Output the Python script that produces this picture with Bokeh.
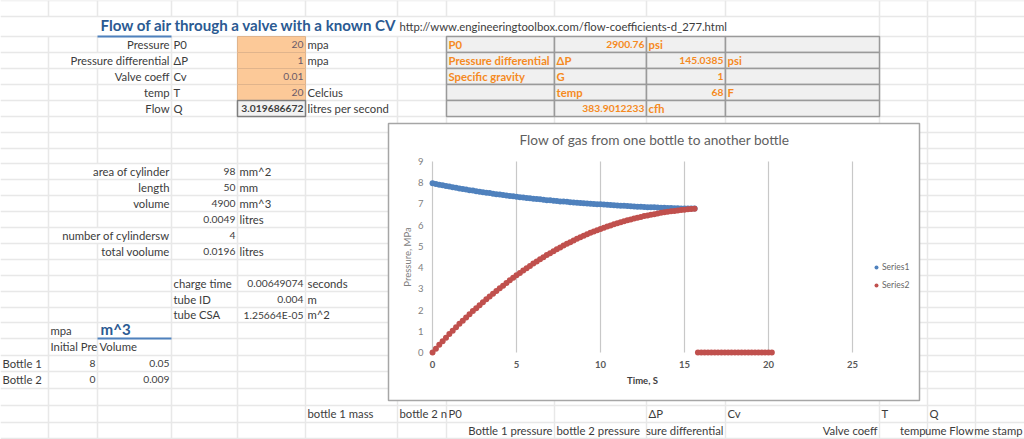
from bokeh.core.properties import value
from bokeh.embed import file_html
from bokeh.models import FixedTicker, Legend, LegendItem, Range1d
from bokeh.plotting import figure
from bokeh.resources import INLINE

# chart values
time_s = [0.0, 0.2, 0.4, 0.6, 0.8, 1.0, 1.2, 1.4, 1.6, 1.8, 2.0, 2.2, 2.4, 2.6, 2.8, 3.0,
          3.2, 3.4, 3.6, 3.8, 4.0, 4.2, 4.4, 4.6, 4.8, 5.0, 5.2, 5.4, 5.6, 5.8, 6.0, 6.2,
          6.4, 6.6, 6.8, 7.0, 7.2, 7.4, 7.6, 7.8, 8.0, 8.2, 8.4, 8.6, 8.8, 9.0, 9.2, 9.4,
          9.6, 9.8, 10.0, 10.2, 10.4, 10.6, 10.8, 11.0, 11.2, 11.4, 11.6, 11.8, 12.0, 12.2,
          12.4, 12.6, 12.8, 13.0, 13.2, 13.4, 13.6, 13.8, 14.0, 14.2, 14.4, 14.6, 14.8, 15.0,
          15.2, 15.4, 15.6]
series1 = [7.97, 7.94, 7.91, 7.88, 7.85, 7.82, 7.79, 7.76, 7.73, 7.71, 7.68, 7.65, 7.63, 7.60,
           7.58, 7.55, 7.53, 7.51, 7.48, 7.46, 7.44, 7.42, 7.40, 7.38, 7.36, 7.34, 7.32, 7.30,
           7.28, 7.27, 7.25, 7.23, 7.22, 7.20, 7.18, 7.17, 7.15, 7.14, 7.12, 7.11, 7.10, 7.08,
           7.07, 7.06, 7.05, 7.03, 7.02, 7.01, 7.00, 6.99, 6.98, 6.97, 6.96, 6.95, 6.94, 6.93,
           6.92, 6.91, 6.90, 6.89, 6.88, 6.87, 6.87, 6.86, 6.85, 6.84, 6.84, 6.83, 6.82, 6.82,
           6.81, 6.81, 6.80, 6.80, 6.79, 6.79, 6.78, 6.78, 6.78]
series2 = [0.00, 0.18, 0.36, 0.53, 0.70, 0.87, 1.03, 1.19, 1.35, 1.50, 1.65, 1.80, 1.95, 2.09,
           2.23, 2.37, 2.51, 2.64, 2.77, 2.90, 3.03, 3.15, 3.28, 3.40, 3.52, 3.64, 3.75, 3.86,
           3.97, 4.08, 4.19, 4.29, 4.39, 4.49, 4.59, 4.68, 4.77, 4.86, 4.95, 5.04, 5.12, 5.20,
           5.28, 5.36, 5.43, 5.50, 5.57, 5.64, 5.70, 5.76, 5.82, 5.88, 5.94, 5.99, 6.04, 6.09,
           6.14, 6.19, 6.23, 6.27, 6.31, 6.35, 6.39, 6.43, 6.46, 6.49, 6.52, 6.55, 6.58, 6.61,
           6.63, 6.65, 6.67, 6.69, 6.71, 6.73, 6.75, 6.76, 6.77]
tail_time = [15.8, 16.0, 16.2, 16.4, 16.6, 16.8, 17.0, 17.2, 17.4, 17.6, 17.8, 18.0,
             18.2, 18.4, 18.6, 18.8, 19.0, 19.2, 19.4, 19.6, 19.8, 20.0, 20.2]
tail_series2 = [0.0] * len(tail_time)
x_ticks = [0, 5, 10, 15, 20, 25]
y_ticks = [0, 1, 2, 3, 4, 5, 6, 7, 8, 9]

# worksheet text: row, column, side, text
plain_cells = [
    (1, 6, "l", "http://www.engineeringtoolbox.com/flow-coefficients-d_277.html"),
    (2, 2, "r", "Pressure"), (2, 3, "l", "P0"), (2, 5, "l", "mpa"),
    (3, 2, "r", "Pressure differential"), (3, 3, "l", "ΔP"), (3, 5, "l", "mpa"),
    (4, 2, "r", "Valve coeff"), (4, 3, "l", "Cv"),
    (5, 2, "r", "temp"), (5, 3, "l", "T"), (5, 5, "l", "Celcius"),
    (6, 2, "r", "Flow"), (6, 3, "l", "Q"), (6, 5, "l", "litres per second"),
    (10, 2, "r", "area of cylinder"), (10, 3, "r", "98"), (10, 4, "l", "mm^2"),
    (11, 2, "r", "length"), (11, 3, "r", "50"), (11, 4, "l", "mm"),
    (12, 2, "r", "volume"), (12, 3, "r", "4900"), (12, 4, "l", "mm^3"),
    (13, 3, "r", "0.0049"), (13, 4, "l", "litres"),
    (14, 2, "r", "number of cylindersw"), (14, 3, "r", "4"),
    (15, 2, "r", "total voolume"), (15, 3, "r", "0.0196"), (15, 4, "l", "litres"),
    (17, 3, "l", "charge time"), (17, 4, "r", "0.00649074"), (17, 5, "l", "seconds"),
    (18, 3, "l", "tube ID"), (18, 4, "r", "0.004"), (18, 5, "l", "m"),
    (19, 3, "l", "tube CSA"), (19, 4, "r", "1.25664E-05"), (19, 5, "l", "m^2"),
    (20, 1, "l", "mpa"),
    (21, 1, "l", "Initial Pre"), (21, 2, "l", "Volume"),
    (22, 0, "l", "Bottle 1"), (22, 1, "r", "8"), (22, 2, "r", "0.05"),
    (23, 0, "l", "Bottle 2"), (23, 1, "r", "0"), (23, 2, "r", "0.009"),
    (25, 5, "l", "bottle 1 mass"), (25, 6, "l", "bottle 2 n"), (25, 7, "l", "P0"),
    (25, 9, "l", "ΔP"), (25, 10, "l", "Cv"), (25, 11, "l", "T"), (25, 12, "l", "Q"),
    (26, 7, "r", "Bottle 1 pressure"), (26, 8, "l", "bottle 2 pressure"),
    (26, 9, "r", "sure differential"), (26, 10, "r", "Valve coeff"), (26, 11, "r", "temp"),
    (26, 12, "r", "ume Flow"), (26, 13, "r", "me stamp"),
]
input_cells = [(2, 4, "r", "20"), (3, 4, "r", "1"), (4, 4, "r", "0.01"), (5, 4, "r", "20")]
output_cells = [(6, 4, "r", "3.019686672")]
calc_cells = [
    (2, 7, "l", "P0"), (2, 8, "r", "2900.76"), (2, 9, "l", "psi"),
    (3, 7, "l", "Pressure differential"), (3, 8, "l", "ΔP"), (3, 9, "r", "145.0385"), (3, 10, "l", "psi"),
    (4, 7, "l", "Specific gravity"), (4, 8, "l", "G"), (4, 9, "r", "1"),
    (5, 8, "l", "temp"), (5, 9, "r", "68"), (5, 10, "l", "F"),
    (6, 8, "r", "383.9012233"), (6, 9, "l", "cfh"),
]

# worksheet layout in page pixels
col_x = [0, 48, 97, 171, 237, 305, 397, 446, 554, 646, 725, 879, 927, 975, 1024]
row_y = [0, 16, 36, 52, 68, 84, 100, 116, 132, 148, 163, 179, 195, 211, 227, 243, 259,
         275, 291, 307, 322, 338, 355, 371, 388, 405, 422, 438]
FONT = "Lato"
SIZE = "11.3px"
NUM_SIZE = "10.3px"  # Lato digits run wider than the sheet's

sheet = figure(width=1024, height=439, x_range=Range1d(0, 1024), y_range=Range1d(439, 0),
               x_axis_type=None, y_axis_type=None, toolbar_location=None, tools="",
               output_backend="svg", min_border=0, outline_line_color=None)
sheet.grid.visible = False


def cell_x(col, side):
    return col_x[col] + 2 if side == "l" else col_x[col + 1] - 2


def cell_y(row):
    return (row_y[row] + row_y[row + 1]) / 2 - 0.5


def put_text(cells, color, style="normal"):
    for side, align in (("l", "left"), ("r", "right")):
        for is_num, size in ((False, SIZE), (True, NUM_SIZE)):
            part = [c for c in cells if c[2] == side and c[3][0].isdigit() == is_num]
            if not part:
                continue
            sheet.text([cell_x(c[1], side) for c in part], [cell_y(c[0]) for c in part],
                       text=[c[3] for c in part], text_align=align, text_baseline="middle",
                       text_font=value(FONT), text_font_size=value(size), text_font_style=style,
                       text_color=color)


# gridlines, cells with text running over them have no line
no_line = {(3, 2), (10, 2), (14, 2)}
x0, y0, x1, y1 = [], [], [], []
for r in range(len(row_y) - 1):
    if r == 1:
        continue
    for c in range(1, len(col_x) - 1):
        if (r, c) not in no_line:
            x0.append(col_x[c])
            x1.append(col_x[c])
            y0.append(row_y[r])
            y1.append(row_y[r + 1])
# the title row only has lines past the url
for c in (11, 12, 13):
    x0.append(col_x[c])
    x1.append(col_x[c])
    y0.append(row_y[1])
    y1.append(row_y[2])
sheet.segment(x0, y0, x1, y1, line_color="#e8e8e8", line_width=1.5)
sheet.segment([0] * len(row_y), row_y, [1024] * len(row_y), row_y, line_color="#e8e8e8", line_width=1.5)

# styled cells
for r in range(2, 6):
    sheet.quad(left=col_x[4], right=col_x[5], top=row_y[r], bottom=row_y[r + 1],
               fill_color="#fcc998", line_color="#e0b48c", line_width=1)
sheet.quad(left=col_x[4], right=col_x[5], top=row_y[6], bottom=row_y[7],
           fill_color="#f2f2f2", line_color="#7f7f7f", line_width=1.5)
for r in range(2, 7):
    for c in range(7, 11):
        sheet.quad(left=col_x[c], right=col_x[c + 1], top=row_y[r], bottom=row_y[r + 1],
                   fill_color="#f0f0f0", line_color="#9a9a9a", line_width=1.5)

# heading underlines
for r in (2, 21):
    sheet.segment(col_x[2], row_y[r], col_x[3], row_y[r], line_color="#4f81bd", line_width=2)

# box behind the chart
sheet.quad(left=388, right=919, top=123, bottom=400, fill_color="white", line_color="#a6a6a6", line_width=1.5)

put_text(plain_cells, "#3c3c3c")
put_text(input_cells, "#6a5a68")
put_text(output_cells, "#404040", style="bold")
put_text(calc_cells, "#f58a1f", style="bold")
sheet.text([col_x[2] + 3], [cell_y(1) - 1], text=["Flow of air through a valve with a known CV"],
           text_baseline="middle", text_font=value(FONT), text_font_size=value("15.1px"), text_font_style="bold",
           text_color="#2b5a92")
sheet.text([col_x[2] + 3], [cell_y(20) - 1], text=["m^3"],
           text_baseline="middle", text_font=value(FONT), text_font_size=value("15.1px"), text_font_style="bold",
           text_color="#2b5a92")

# the chart itself, see-through so the box behind it shows
chart = figure(frame_width=432, frame_height=203, x_range=Range1d(-0.36, 25.36), y_range=Range1d(-0.283, 9.283),
               toolbar_location=None, tools="", output_backend="svg",
               min_border_left=37, min_border_right=0, min_border_top=31, min_border_bottom=41,
               outline_line_color=None, border_fill_color=None, background_fill_color=None,
               margin=(120 - 439, 0, 0, 389))
chart.title.text = "Flow of gas from one bottle to another bottle"
chart.title.text_font = FONT
chart.title.text_font_size = "13.7px"
chart.title.text_font_style = "normal"
chart.title.text_color = "#5f5f5f"
chart.title.align = "left"
chart.title.offset = 93
chart.title.standoff = 16

chart.ygrid.visible = False
chart.xgrid.ticker = FixedTicker(ticks=x_ticks)
chart.xgrid.bounds = (0, 25)
chart.xgrid.cross_bounds = (0, 9)
chart.xgrid.grid_line_color = "#c8c8c8"
chart.xgrid.grid_line_width = 1.2

chart.xaxis.ticker = FixedTicker(ticks=x_ticks)
chart.yaxis.ticker = FixedTicker(ticks=y_ticks)
chart.xaxis.axis_label = "Time, S"
chart.yaxis.axis_label = "Pressure, MPa"
for ax in (chart.xaxis[0], chart.yaxis[0]):
    ax.axis_line_color = None
    ax.major_tick_line_color = None
    ax.minor_tick_line_color = None
    ax.major_label_text_font = FONT
    ax.major_label_text_font_size = "9.5px"
    ax.axis_label_text_font = FONT
    ax.axis_label_text_font_size = "9.5px"
chart.xaxis.major_label_text_color = "#595959"
chart.xaxis.major_label_text_font_style = "bold"
chart.yaxis.major_label_text_color = "#808080"
chart.xaxis.axis_label_text_color = "#404040"
chart.xaxis.axis_label_text_font_style = "bold"
chart.yaxis.axis_label_text_color = "#808080"
chart.yaxis.axis_label_text_font_style = "normal"
chart.xaxis.major_label_standoff = -4
chart.yaxis.major_label_standoff = -3
chart.xaxis.axis_label_standoff = 4
chart.yaxis.axis_label_standoff = 2

blue = chart.scatter(time_s, series1, size=6, fill_color="#4f81bd", line_color=None)
red = chart.scatter(time_s + tail_time, series2 + tail_series2, size=6, fill_color="#c0504d", line_color=None)

legend = Legend(items=[LegendItem(label="Series1", renderers=[blue]), LegendItem(label="Series2", renderers=[red])],
                location=(13, 68), border_line_color=None, background_fill_color=None,
                glyph_width=10, glyph_height=10, label_standoff=1, spacing=8, padding=0, margin=0,
                label_text_font=FONT, label_text_font_size="8.5px", label_text_color="#666666",
                label_height=10)
chart.add_layout(legend, "right")

p = [sheet, chart]
open("out.html", "w").write(file_html(p, INLINE))
